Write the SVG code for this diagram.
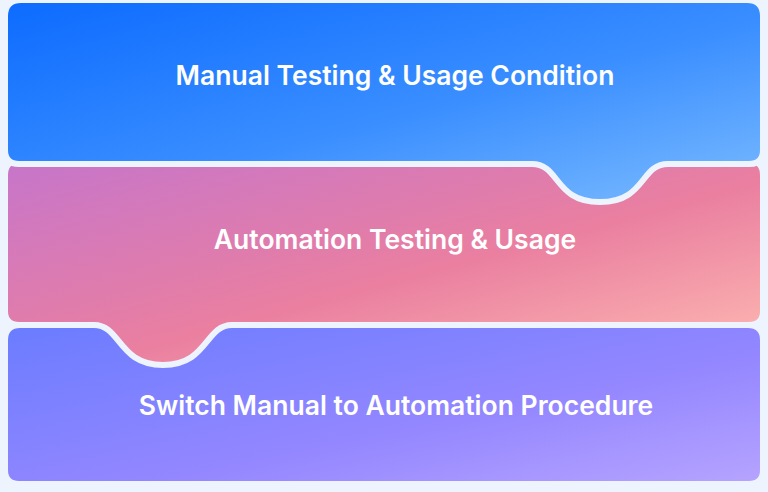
<svg xmlns="http://www.w3.org/2000/svg" width="768" height="492" viewBox="0 0 768 492">
<defs>
<linearGradient id="g1" x1="0" y1="0" x2="1" y2="1"><stop offset="0" stop-color="#0c6bff"/><stop offset="0.55" stop-color="#3a8eff"/><stop offset="1" stop-color="#7cbcff"/></linearGradient>
<linearGradient id="g2" x1="0" y1="0" x2="1" y2="1"><stop offset="0" stop-color="#c675cb"/><stop offset="0.55" stop-color="#ea7fa0"/><stop offset="1" stop-color="#ffbdb3"/></linearGradient>
<linearGradient id="g3" x1="0" y1="0" x2="1" y2="1"><stop offset="0" stop-color="#6a7cff"/><stop offset="0.6" stop-color="#9487ff"/><stop offset="1" stop-color="#b7a4ff"/></linearGradient>
<style>.p{stroke:#eef4fd;stroke-width:6;stroke-linejoin:round}.t{font-family:Inter,"Liberation Sans",sans-serif;font-weight:600;font-size:26.5px;fill:#fff;text-anchor:middle}</style>
</defs>
<rect width="768" height="492" fill="#eef4fd"/>
<g id="n3"><path class="p" fill="url(#g3)" d="M5,340 Q5,325 20,325 L748,325 Q763,325 763,340 L763,470 Q763,484 749,484 L19,484 Q5,484 5,470 Z"/><text class="t" x="396" y="415">Switch Manual to Automation Procedure</text></g>
<g id="n2"><path class="p" fill="url(#g2)" d="M5,175 Q5,160 20,160 L748,160 Q763,160 763,175 L763,311 Q763,325 749,325 L232,325 C205,325 208,365 163,365 C118,365 121,325 94,325 L19,325 Q5,325 5,311 Z"/><text class="t" x="395" y="249">Automation Testing &amp; Usage</text></g>
<g id="n1"><path class="p" fill="url(#g1)" d="M5,16 Q5,0 21,0 L747,0 Q763,0 763,16 L763,150 Q763,164 749,164 L668,164 C640,164 646,202 600,202 C554,202 560,164 532,164 L19,164 Q5,164 5,150 Z"/><text class="t" x="395" y="85">Manual Testing &amp; Usage Condition</text></g>
<g id="connectors"/>
</svg>
